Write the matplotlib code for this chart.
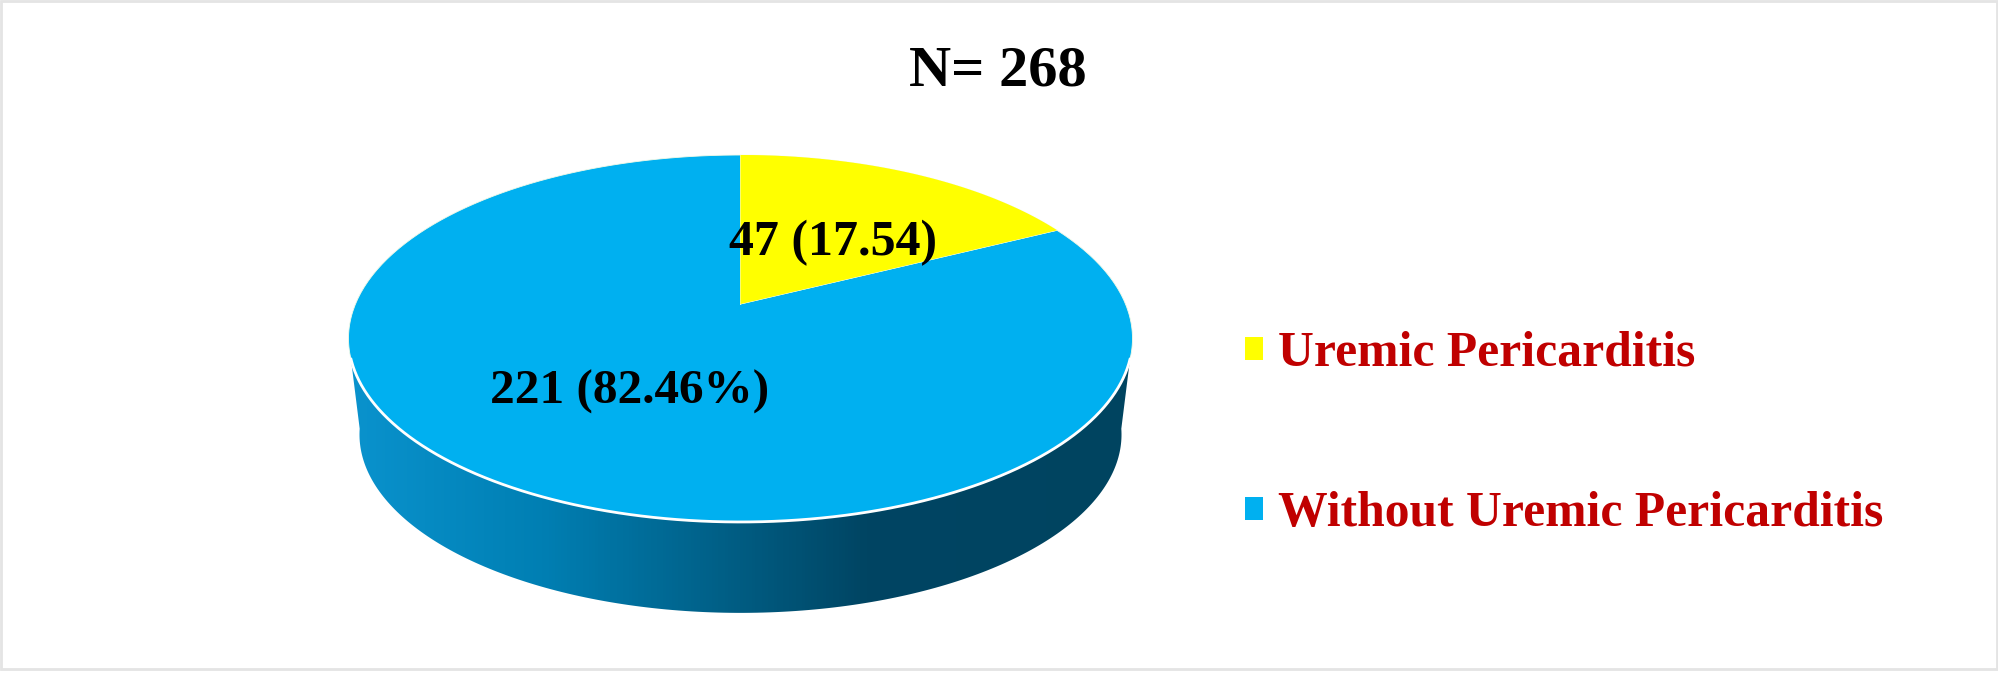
import numpy as np
import matplotlib
matplotlib.use("Agg")
import matplotlib.pyplot as plt
from matplotlib.colors import LinearSegmentedColormap
from matplotlib.patches import Patch, Polygon, Rectangle

categories = ["Uremic Pericarditis", "Without Uremic Pericarditis"]
values = [47, 221]
slice_labels = ["47 (17.54)", "221 (82.46%)"]
title = "N= 268"

colors = ["#FFFF00", "#00B0F0"]
red = "#C00000"
FONT = "Liberation Serif"

plt.rcParams["font.family"] = FONT
plt.rcParams["font.weight"] = "bold"

# pixel coordinates of the picture
W, H = 1999, 673
fig = plt.figure(figsize=(W / 100, H / 100), dpi=100)
ax = fig.add_axes([0, 0, 1, 1])


def project(phi, scale=1.0, apex_y=304.0, r=1.0):
    """Disc angle (clockwise from the top, degrees) to picture pixels, with perspective."""
    phi = np.radians(phi)
    u, v = r * np.sin(phi), r * np.cos(phi)
    w = 1 + 0.188 * v
    return 740.5 + scale * 385 * u / w, apex_y - scale * 177 * v / w


# side of the disc, shaded left to right
xt, yt = project(np.linspace(107, 253, 200))
xb, yb = project(np.linspace(99, 261, 200), scale=0.972, apex_y=401)
side = np.column_stack([np.r_[xt, xb[::-1]], np.r_[yt, yb[::-1]]])
cmap = LinearSegmentedColormap.from_list(
    "side",
    [(0.0, "#0A93CE"), (0.25, "#007FB3"), (0.5, "#005C82"), (0.66, "#004563"), (1.0, "#004460")],
)
im = ax.imshow(np.linspace(0, 1, 256).reshape(1, -1), extent=[345, 1135, 640, 330],
               aspect="auto", cmap=cmap, zorder=1)
im.set_clip_path(Polygon(side, closed=True, transform=ax.transData))

# top face, one slice per value
angles = np.cumsum([0] + values) / sum(values) * 360
for i, color in enumerate(colors):
    phi = np.linspace(angles[i], angles[i + 1], 300)
    x, y = project(phi)
    ax.fill(np.r_[740.5, x], np.r_[304, y], color=color, lw=0, zorder=2)
    ax.plot(np.r_[740.5, x, 740.5], np.r_[304, y, 304], color="#F4FBE8", lw=0.6, zorder=3)
    if i == 0:
        first = (x, y)

# white rim along the front of the top face
ax.plot(xt, yt, color="white", lw=2, zorder=4, solid_capstyle="round")
ax.fill(np.r_[740.5, first[0]], np.r_[304, first[1]], color=colors[0], lw=0, zorder=4)

# labels on the slices
ax.text(729, 255, slice_labels[0], fontsize=36, color="black", ha="left", va="baseline", zorder=6)
ax.text(490, 404, slice_labels[1], fontsize=35.5, color="black", ha="left", va="baseline", zorder=6)
ax.text(998, 86, title, fontsize=42, color="black", ha="center", va="baseline", zorder=6)

handles = [Patch(facecolor=c, edgecolor="none", label=n) for c, n in zip(colors, categories)]
ax.legend(handles=handles, loc="upper left", bbox_to_anchor=(1245 / W, 1 - 331 / H),
          frameon=False, fontsize=35.7, labelcolor=red, handlelength=0.36, handleheight=0.33,
          handletextpad=0.30, labelspacing=2.3, borderaxespad=0, borderpad=0)

# thin frame round the picture
ax.add_patch(Rectangle((1, 1), 1996, 668, fill=False, edgecolor="#E4E4E4", lw=2, zorder=0))

ax.set_xlim(0, W)
ax.set_ylim(H, 0)
ax.axis("off")
fig.savefig("out.png", dpi=100, facecolor="white")
